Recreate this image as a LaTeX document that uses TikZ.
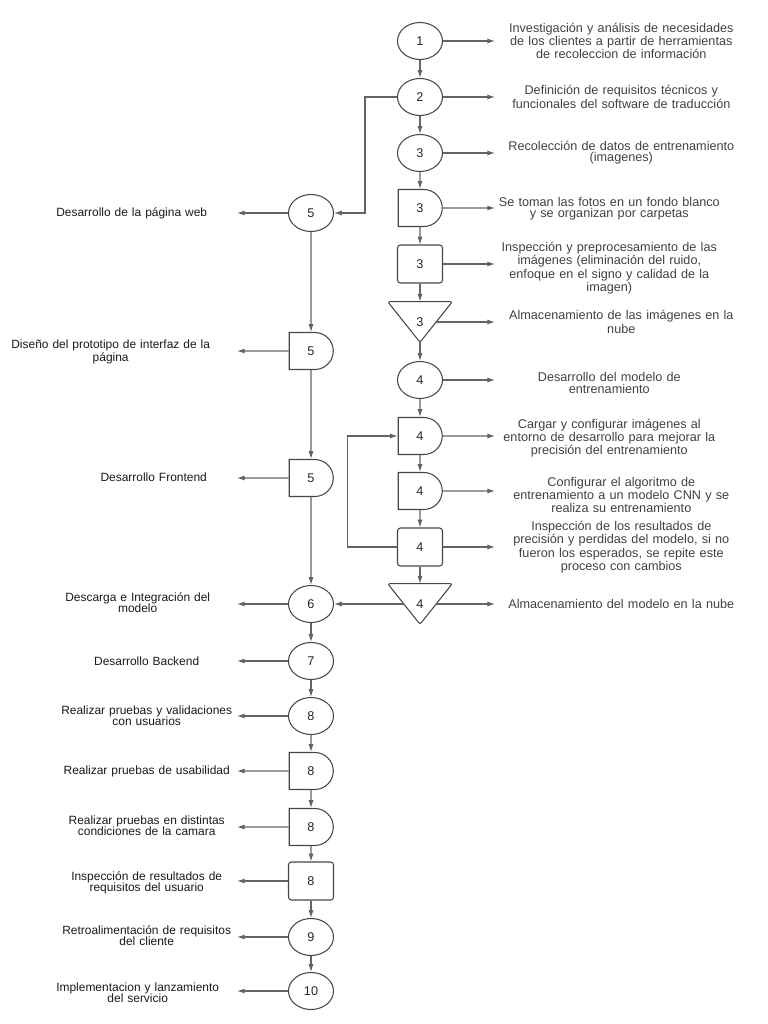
\documentclass[tikz,border=0pt]{standalone}
\usepackage{fontspec}
\setmainfont{Liberation Sans}
\usetikzlibrary{shapes.geometric,shapes.misc,arrows.meta,calc}
\definecolor{linegray}{RGB}{100,100,100}
\definecolor{edgegray}{RGB}{70,70,70}
\definecolor{txtgray}{RGB}{65,65,65}
\definecolor{txtdark}{RGB}{25,25,25}
\tikzset{
  arr/.style={draw=linegray,line width=0.75pt,-{Latex[length=5.5pt,width=3.6pt]}},
  base/.style={draw=edgegray,line width=0.75pt,inner sep=0pt,text=black!85,font=\fontsize{9}{8}\selectfont},
  circ/.style={base,ellipse,minimum width=1.125cm,minimum height=0.925cm},
  dbox/.style={base,rounded rectangle,rounded rectangle west arc=none,minimum width=1.1cm,minimum height=0.925cm},
  sqbox/.style={base,rectangle,rounded corners=2pt,minimum width=1.125cm,minimum height=0.95cm},
  tribox/.style={inner sep=0pt,minimum width=1.6cm,minimum height=1cm,text=black!85,font=\fontsize{9}{8}\selectfont},
  tri/.style={draw=edgegray,line width=0.75pt,rounded corners=1.5pt},
  rtext/.style={anchor=west,inner sep=0pt,align=center,text width=6.3cm,text=txtgray,font=\fontsize{9}{8}\selectfont},
  ltext/.style={anchor=east,inner sep=0pt,align=center,text width=4.5cm,text=txtdark,font=\fontsize{8.5}{8}\selectfont},
}
\begin{document}
\begin{tikzpicture}[x=0.025cm,y=-0.025cm]
  \useasboundingbox (0,0) rectangle (768,1024);

  % right column
  \node[circ] (c1) at (420,41) {1};
  \node[circ] (c2) at (420,97) {2};
  \node[circ] (c3) at (420,153) {3};
  \node[dbox] (d3) at (420,208) {3};
  \node[sqbox] (s3) at (420,264) {3};
  \node[tribox] (t3) at (420,322) {3};
  \draw[tri] (t3.north west) -- (t3.north east) -- (t3.south) -- cycle;
  \node[circ] (c4) at (420,380) {4};
  \node[dbox] (d4a) at (420,436) {4};
  \node[dbox] (d4b) at (420,491) {4};
  \node[sqbox] (s4) at (420,547) {4};
  \node[tribox] (t4) at (420,604) {4};
  \draw[tri] (t4.north west) -- (t4.north east) -- (t4.south) -- cycle;

  % left column
  \node[circ] (c5) at (311,213) {5};
  \node[dbox] (d5a) at (311,351) {5};
  \node[dbox] (d5b) at (311,478) {5};
  \node[circ] (c6) at (311,604) {6};
  \node[circ] (c7) at (311,661) {7};
  \node[circ] (c8) at (311,716) {8};
  \node[dbox] (d8a) at (311,771) {8};
  \node[dbox] (d8b) at (311,827) {8};
  \node[sqbox] (s8) at (311,881) {8};
  \node[circ] (c9) at (311,937) {9};
  \node[circ] (c10) at (311,991) {10};

  % descriptions
  \node[rtext] (l1) at (495,41) {Investigación y análisis de necesidades\\de los clientes a partir de herramientas\\de recoleccion de información};
  \node[rtext] (l2) at (495,97) {Definición de requisitos técnicos y\\funcionales del software de traducción};
  \node[rtext] (l3) at (495,153) {Recolección de datos de entrenamiento\\(imagenes)};
  \node[rtext,text width=5.7cm] (l4) at (495,209) {Se toman las fotos en un fondo blanco\\y se organizan por carpetas};
  \node[rtext,text width=5.7cm] (l5) at (495,268) {Inspección y preprocesamiento de las\\imágenes (eliminación del ruido,\\enfoque en el signo y calidad de la\\imagen)};
  \node[rtext] (l6) at (495,322) {Almacenamiento de las imágenes en la\\nube};
  \node[rtext,text width=5.7cm] (l7) at (495,383) {Desarrollo del modelo de\\entrenamiento};
  \node[rtext,text width=5.7cm] (l8) at (495,438) {Cargar y configurar imágenes al\\entorno de desarrollo para mejorar la\\precisión del entrenamiento};
  \node[rtext] (l9) at (495,495) {Configurar el algoritmo de\\entrenamiento a un modelo CNN y se\\realiza su entrenamiento};
  \node[rtext] (l10) at (495,547) {Inspección de los resultados de\\precisión y perdidas del modelo, si no\\fueron los esperados, se repite este\\proceso con cambios};
  \node[rtext] (l11) at (495,604) {Almacenamiento del modelo en la nube};

  \node[ltext,text width=5.25cm] (m5) at (237,213) {Desarrollo de la página web};
  \node[ltext,text width=6.3cm] (m6) at (237,352) {Diseño del prototipo de interfaz de la\\página};
  \node[ltext,text width=4.15cm] (m7) at (237,477) {Desarrollo Frontend};
  \node[ltext,text width=4.95cm] (m8) at (237,603) {Descarga e Integración del\\modelo};
  \node[ltext] (m9) at (237,661) {Desarrollo Backend};
  \node[ltext] (m10) at (237,716) {Realizar pruebas y validaciones\\con usuarios};
  \node[ltext] (m11) at (237,771) {Realizar pruebas de usabilidad};
  \node[ltext] (m12) at (237,826) {Realizar pruebas en distintas\\condiciones de la camara};
  \node[ltext] (m13) at (237,883) {Inspección de resultados de\\requisitos del usuario};
  \node[ltext] (m14) at (237,936) {Retroalimentación de requisitos\\del cliente};
  \node[ltext,text width=4.95cm] (m15) at (237,993) {Implementacion y lanzamiento\\del servicio};

  \coordinate (t3r) at ($(t3.north east)!0.5!(t3.south)$);
  \coordinate (t4r) at ($(t4.north east)!0.5!(t4.south)$);
  \coordinate (t4l) at ($(t4.north west)!0.5!(t4.south)$);

  % flow, right column
  \draw[arr] (c1) -- (c2);
  \draw[arr] (c2) -- (c3);
  \draw[arr] (c3) -- (d3);
  \draw[arr] (d3) -- (s3);
  \draw[arr] (s3) -- (t3.north);
  \draw[arr] (t3.south) -- (c4);
  \draw[arr] (c4) -- (d4a);
  \draw[arr] (d4a) -- (d4b);
  \draw[arr] (d4b) -- (s4);
  \draw[arr] (s4) -- (t4.north);
  \draw[arr] (s4.west) -- ++(-49,0) |- (d4a.west);
  \draw[arr] (c2.west) -- ++(-32,0) |- (c5);
  \draw[arr] (t4l) -- (c6);

  % flow, left column
  \draw[arr] (c5) -- (d5a);
  \draw[arr] (d5a) -- (d5b);
  \draw[arr] (d5b) -- (c6);
  \draw[arr] (c6) -- (c7);
  \draw[arr] (c7) -- (c8);
  \draw[arr] (c8) -- (d8a);
  \draw[arr] (d8a) -- (d8b);
  \draw[arr] (d8b) -- (s8);
  \draw[arr] (s8) -- (c9);
  \draw[arr] (c9) -- (c10);

  % to the descriptions
  \draw[arr] (c1) -- (c1 -| l1.west);
  \draw[arr] (c2) -- (c2 -| l2.west);
  \draw[arr] (c3) -- (c3 -| l3.west);
  \draw[arr] (d3) -- (d3 -| l4.west);
  \draw[arr] (s3) -- (s3 -| l5.west);
  \draw[arr] (t3r) -- (t3r -| l6.west);
  \draw[arr] (c4) -- (c4 -| l7.west);
  \draw[arr] (d4a) -- (d4a -| l8.west);
  \draw[arr] (d4b) -- (d4b -| l9.west);
  \draw[arr] (s4) -- (s4 -| l10.west);
  \draw[arr] (t4r) -- (t4r -| l11.west);

  \draw[arr] (c5) -- (c5 -| m5.east);
  \draw[arr] (d5a) -- (d5a -| m6.east);
  \draw[arr] (d5b) -- (d5b -| m7.east);
  \draw[arr] (c6) -- (c6 -| m8.east);
  \draw[arr] (c7) -- (c7 -| m9.east);
  \draw[arr] (c8) -- (c8 -| m10.east);
  \draw[arr] (d8a) -- (d8a -| m11.east);
  \draw[arr] (d8b) -- (d8b -| m12.east);
  \draw[arr] (s8) -- (s8 -| m13.east);
  \draw[arr] (c9) -- (c9 -| m14.east);
  \draw[arr] (c10) -- (c10 -| m15.east);
\end{tikzpicture}
\end{document}
